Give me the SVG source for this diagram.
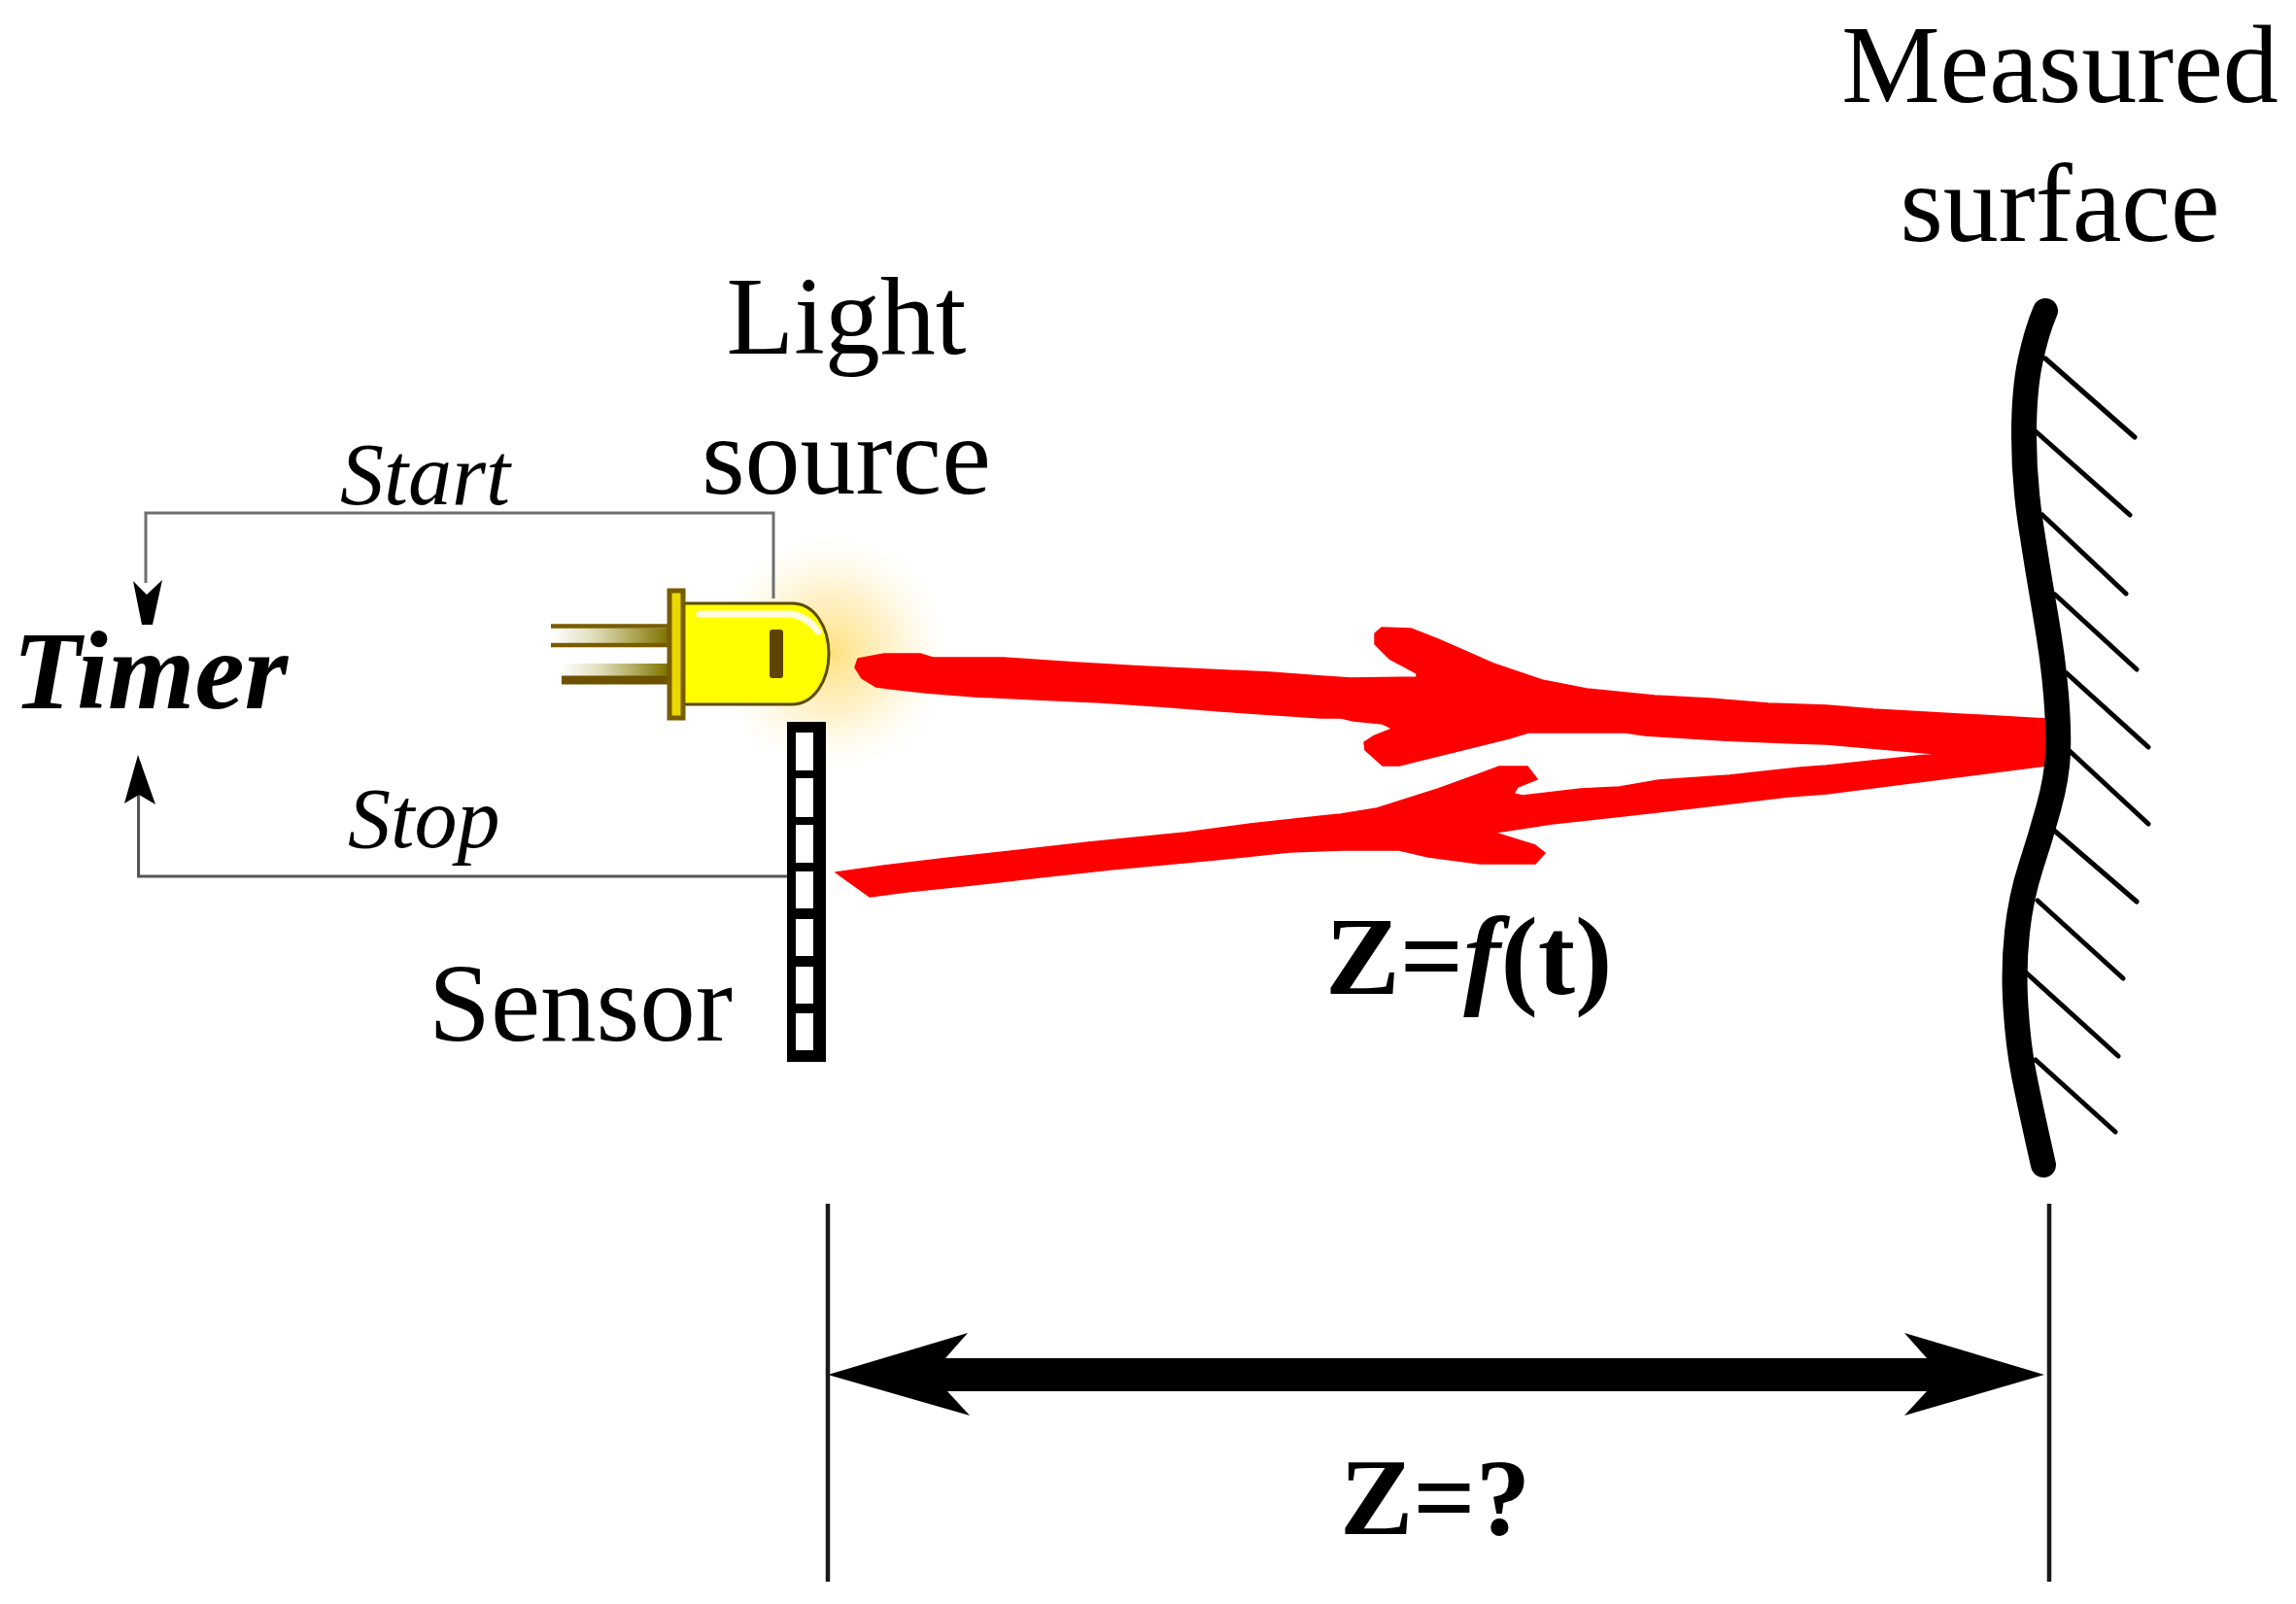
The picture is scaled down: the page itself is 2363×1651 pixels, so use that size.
<svg xmlns="http://www.w3.org/2000/svg" width="2363" height="1651" viewBox="0 0 2363 1651">
<style>
text{font-family:"Liberation Serif","Times New Roman",serif;fill:#000;font-size:114px}
.m{text-anchor:middle}
.wire{fill:none;stroke:#6e6e6e;stroke-width:3}
.head{fill:#000;stroke:none}
.hatch{fill:none;stroke:#000;stroke-width:5;stroke-linecap:round}
.dim{fill:none;stroke:#1a1a1a;stroke-width:4.500}
.lead{stroke:#7a5c00;stroke-width:4.500;fill:none}
</style>
<defs>
<radialGradient id="glow"><stop offset="0" stop-color="#ffdc6e" stop-opacity=".9"/><stop offset=".5" stop-color="#ffe9a6" stop-opacity=".6"/><stop offset="1" stop-color="#fff5d8" stop-opacity="0"/></radialGradient>
<linearGradient id="leadfade" x1="0" x2="1" y1="0" y2="0"><stop offset="0" stop-color="#8a8000" stop-opacity="0"/><stop offset=".35" stop-color="#8a8000" stop-opacity=".25"/><stop offset="1" stop-color="#7d7400"/></linearGradient>
</defs>
<rect width="2363" height="1651" fill="#fff"/>
<g id="light-source">
<circle cx="855" cy="672" r="122" fill="url(#glow)"/>
<rect x="567" y="647" width="120" height="16" fill="url(#leadfade)"/>
<path class="lead" d="M567 644.500H687M567 664H687"/>
<rect x="578" y="683" width="109" height="14" fill="url(#leadfade)"/>
<path d="M578 700H687" stroke="#6e5200" stroke-width="9" fill="none"/>
<path d="M703 621H815C838 621 853 645 853 673C853 700 838 725 815 725H703Z" fill="#ff0" stroke="#5d4a00" stroke-width="3"/>
<path d="M720 632H815Q833 636 842 650" fill="none" stroke="#fffbe0" stroke-width="7" stroke-linecap="round"/>
<rect x="689" y="608" width="14" height="131" fill="#e8d800" stroke="#7a5c00" stroke-width="5"/>
<rect x="792" y="648" width="14" height="50" rx="3" fill="#5d4400"/>
<text x="871" y="364" class="m">Light</text>
<text x="871" y="508" class="m">source</text>
</g>
<g id="connectors">
<path class="wire" d="M796 616V528H150V600"/>
<path class="head" d="M137 598L151 612L167 597L157 643H146Z"/>
<path class="wire" d="M810 902H142.500V815" style="stroke:#555"/>
<path class="head" d="M142 777L160 828L143 818L128 827Z"/>
<path id="red-beam" fill="#f00" stroke="#f00" stroke-width="1.500" stroke-linejoin="round" d="M880 687L883 678 910 673 947 673 960 677 1033 677 1107 682 1177 686 1240 689 1307 692 1360 696 1390 698 1458 697 1458 693 1430 678 1415 663 1415 652 1422 646 1452 647 1480 658 1537 683 1587 700 1633 709 1703 716 1760 719 1820 724 1880 726 1928 730 2106 740V788L1880 817 1840 820 1740 832 1670 840 1597 848 1538 857 1580 870 1590 878 1580 889 1523 889 1470 882 1440 875 1380 875 1327 877 1250 885 1143 895 1070 903 1000 911 933 918 895 923 860 898 910 891 977 883 1050 875 1120 867 1220 857 1287 848 1360 840 1380 838 1417 832 1480 812 1543 789 1572 789 1582 802 1562 810 1558 817 1567 819 1627 812 1667 810 1707 803 1780 798 1853 790 1880 788 1993 776 1880 766 1847 765 1773 762 1693 757 1673 754 1573 754 1553 760 1460 783 1440 788 1423 788 1405 772 1404 764 1413 758 1433 750 1423 745 1393 742 1380 739 1360 739 1257 732 1193 727 1133 723 1067 720 1003 717 953 713 917 709 902 707 887 698Z"/>
<path class="head" d="M852 1415L996 1372L973 1398H1983L1960 1372L2104 1415L1960 1457L1983 1432H975L998 1457Z"/>
<path class="dim" d="M852 1239V1628M2109 1239V1628"/>
</g>
<g id="sensor">
<rect x="810" y="743" width="40" height="350" fill="#000"/>
<g fill="#fff">
<rect x="819" y="754" width="18" height="39"/><rect x="819" y="801" width="18" height="40"/><rect x="819" y="849" width="18" height="39"/><rect x="819" y="897" width="18" height="38"/><rect x="819" y="946" width="18" height="38"/><rect x="819" y="995" width="18" height="38"/><rect x="819" y="1043" width="18" height="38"/>
</g>
<text x="441" y="1071" style="font-size:115px">Sensor</text>
</g>
<g id="measured-surface">
<path d="M2105 320Q2096 341 2089.500 371.500Q2083 402 2083 448Q2083 494 2090 540Q2097 586 2105 632Q2113 678 2116 714.500Q2119 751 2118 775.500Q2117 800 2108.500 831Q2100 862 2090 892.500Q2080 923 2076 959.500Q2072 996 2074.500 1036Q2077 1076 2083 1106.500Q2089 1137 2103 1199" fill="none" stroke="#000" stroke-width="26" stroke-linecap="round"/>
<path class="hatch" d="M2105 369L2197 450M2095 444L2192 530M2102 530L2188 611M2115 612L2199 689M2127 693L2211 769M2130 773L2211 848M2112 853L2199 928M2097 927L2185 1007M2085 1001L2180 1087M2095 1091L2177 1165"/>
<text x="2120" y="105" class="m">Measured</text>
<text x="2120" y="248" class="m">surface</text>
</g>
<g id="timer">
<text x="13" y="729" font-weight="bold" font-style="italic" style="font-size:115px">Timer</text>
</g>
<g id="labels">
<text x="350" y="519" font-style="italic" style="font-size:90px">Start</text>
<text x="358" y="872" font-style="italic" style="font-size:88px">Stop</text>
<text x="1364" y="1023" font-weight="bold" style="font-size:115px">Z=<tspan font-style="italic">f</tspan>(t)</text>
<text x="1379" y="1579" font-weight="bold" style="font-size:113px">Z=?</text>
</g>
</svg>
